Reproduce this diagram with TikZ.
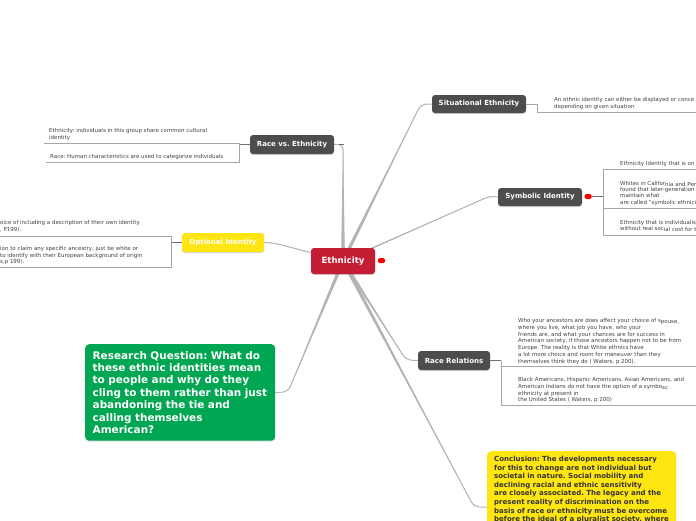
\documentclass[tikz,border=0pt]{standalone}
\usepackage{fontspec}
\setmainfont{DejaVu Sans}
\usetikzlibrary{shadows,backgrounds}
\definecolor{hubred}{HTML}{C41E34}
\definecolor{darkbox}{HTML}{4D4D4B}
\definecolor{sunny}{HTML}{FFE512}
\definecolor{leafgreen}{HTML}{00A651}
\definecolor{spokegray}{HTML}{B4B4B4}
\definecolor{leafline}{HTML}{A6A6A6}
\newcommand{\dip}[1]{\raisebox{-1pt}{#1}}
\frenchspacing

\begin{document}
\begin{tikzpicture}[x=1pt, y=-1pt,
    box node/.style={rectangle, rounded corners=3pt, inner sep=0pt, align=center,
      font=\fontsize{7}{9}\selectfont\bfseries, text=white,
      drop shadow={shadow xshift=0pt, shadow yshift=-1pt, opacity=.35}},
    main node/.style={box node, fill=darkbox},
    leaf text/.style={anchor=north west, inner sep=0pt, align=left, text=black!75,
      font=\fontsize{5.48}{6.3}\selectfont},
    big note/.style={rectangle, rounded corners=4pt, anchor=north west, align=left,
      drop shadow={shadow xshift=0pt, shadow yshift=-1pt, opacity=.3}},
    spoke/.style={fill=spokegray, draw=none},
    spoke end/.style={draw=spokegray, line width=1pt, rounded corners=6pt},
    branch/.style={draw=darkbox!80, line width=1.1pt},
    leaf edge/.style={draw=leafline, line width=.9pt},
    red tab/.style={rectangle, rounded corners=1.5pt, fill=red, minimum width=7pt,
      minimum height=5pt, inner sep=0pt}]

  \useasboundingbox (0,0) rectangle (696,520);
  \clip (0,0) rectangle (696,520);

  % main topics
  \node[box node, fill=hubred, minimum width=64pt, minimum height=26pt,
        font=\fontsize{8.6}{10}\selectfont\bfseries] (ethnicity) at (343,261) {Ethnicity};
  \node[main node, minimum width=84pt, minimum height=19pt] (racevs) at (292,144.5) {Race vs. Ethnicity};
  \node[box node, fill=sunny, minimum width=82pt, minimum height=19pt] (optional) at (223,242.5) {Optional Identity};
  \node[main node, minimum width=94pt, minimum height=18pt] (situational) at (479,104) {Situational Ethnicity};
  \node[main node, minimum width=84pt, minimum height=18pt] (symbolic) at (540,197) {Symbolic Identity};
  \node[main node, minimum width=72pt, minimum height=19pt] (relations) at (454,360.5) {Race Relations};

  \node[big note, fill=leafgreen, text=white, inner xsep=7.5pt, inner ysep=7pt, text width=175pt,
        font=\fontsize{10.45}{12.4}\selectfont\bfseries] (question) at (85,344)
    {Research Question: What do\\these ethnic identities mean\\to people and why do they\\cling to them rather than just\\abandoning the tie and\\calling themselves\\American?};
  \node[big note, fill=sunny, text=black!80, inner xsep=7pt, inner ysep=5pt, text width=175pt,
        font=\fontsize{7}{8.6}\selectfont\bfseries] (conclusion) at (487,451)
    {Conclusion: The developments necessary\\for this to change are not individual but\\societal in nature. Social mobility and\\declining racial and ethnic sensitivity\\are closely associated. The legacy and the\\present reality of discrimination on the\\basis of race or ethnicity must be overcome\\before the ideal of a pluralist society, where};

  \node[red tab] (hubtab) at (381.5,260.5) {};
  \node[red tab] (symboltab) at (588,196.5) {};

  % elbows of the spokes
  \coordinate (racebend) at (343,144);
  \coordinate (optbend) at (274,243);
  \coordinate (sitbend) at (421,104);
  \coordinate (symbend) at (490,196);
  \coordinate (relbend) at (406,360);
  \coordinate (quesbend) at (288,392);
  \coordinate (concbend) at (474,507);

  \begin{scope}[on background layer]
    \foreach \bend/\target in {racebend/racevs, optbend/optional, sitbend/situational,
        symbend/symbolic, relbend/relations, quesbend/question, concbend/conclusion} {
      \fill[spoke] ([xshift=-2pt]ethnicity.center) -- (\bend) -- ([xshift=2pt]ethnicity.center) -- cycle;
    }
    \draw[spoke end] (ethnicity.center) -- (racebend) -- (racevs.east);
    \draw[spoke end] (ethnicity.center) -- (optbend) -- (optional.east);
    \draw[spoke end] (ethnicity.center) -- (sitbend) -- (situational.west);
    \draw[spoke end] (ethnicity.center) -- (symbend) -- (symbolic.west);
    \draw[spoke end] (ethnicity.center) -- (relbend) -- (relations.west);
    \draw[spoke end] (ethnicity.center) -- (quesbend) -- (question.east);
    \draw[spoke end] (ethnicity.center) -- (concbend) -- (487,507);
  \end{scope}
  \draw[darkbox!80, line width=.8pt] (339,144.5) -- (344,144.5);

  % leaf text
  \node[leaf text] (racelineA) at (49,128.5) {Ethnicity: individuals in this group share common cultural\\identity};
  \node[leaf text] (racelineB) at (50,154.5) {Race: Human characteristics are used to categorize individuals};
  \node[leaf text] (optlineA) at (0,220.5) {oice of including a description of their own identity\\\hspace*{0pt}, P199).};
  \node[leaf text] (optlineB) at (0,246.5) {ion to claim any specific ancestry, just be white or\\to identify with their European background of origin\\s,p 199).};
  \node[leaf text] (sitline) at (554,97.5) {An ethnic identity can either be displayed or conce\\depending on given situation};
  \node[leaf text] (symlineA) at (620,161) {Ethnicity Identity that is on};
  \node[leaf text] (symlineB) at (620,181) {Whites in Califor\dip{nia and Per}\\found that later-generation\\maintain what\\are called "symbolic ethnici};
  \node[leaf text] (symlineC) at (620,220) {Ethnicity that is individualis\\without real soc\dip{ial cost for t}};
  \node[leaf text, font=\fontsize{5.48}{6.7}\selectfont] (rellineA) at (518,318.5) {Who your ancestors are does affect your choice of s\dip{pouse,}\\where you live, what job you have, who your\\friends are, and what your chances are for success in\\American society, if those ancestors happen not to be from\\Europe. The reality is that White ethnics have\\a lot more choice and room for maneuver than they\\themselves think they do ( Waters, p 200).};
  \node[leaf text, font=\fontsize{5.48}{6.7}\selectfont] (rellineB) at (518,377.5) {Black Americans, Hispanic Americans, Asian Americans, and\\American Indians do not have the option of a symbo\dip{sc}\\ethnicity at present in\\the United States ( Waters, p 200)};

  % branches to the leaves
  \coordinate (raceend) at (239,143.5);
  \coordinate (optend) at (171,236);
  \coordinate (sitend) at (537,112);
  \coordinate (symend) at (603,169.5);
  \coordinate (relend) at (501,366.5);

  \draw[branch] (racevs.west) -- (239,144.5);
  \draw[leaf edge] (44,143.5) -- (raceend) -- (239,162.5) -- (46,162.5);
  \draw[branch] (optional.west) -- (171,242.5);
  \draw[leaf edge] (0,236) -- (optend) -- (171,267.5) -- (0,267.5);
  \draw[leaf edge] (situational.east) -- (537,104) -- (sitend) -- (696,112);
  \draw[branch] (symboltab.east) -- (603,196.5);
  \draw[leaf edge] (696,169.5) -- (symend) -- (603,235.5) -- (696,235.5);
  \draw[leaf edge] (603,208.5) -- (696,208.5);
  \draw[branch] (relations.east) -- (501,360.5);
  \draw[leaf edge] (696,366.5) -- (relend);
  \draw[leaf edge] (501,360.5) -- (501,405.5) -- (696,405.5);
\end{tikzpicture}
\end{document}
